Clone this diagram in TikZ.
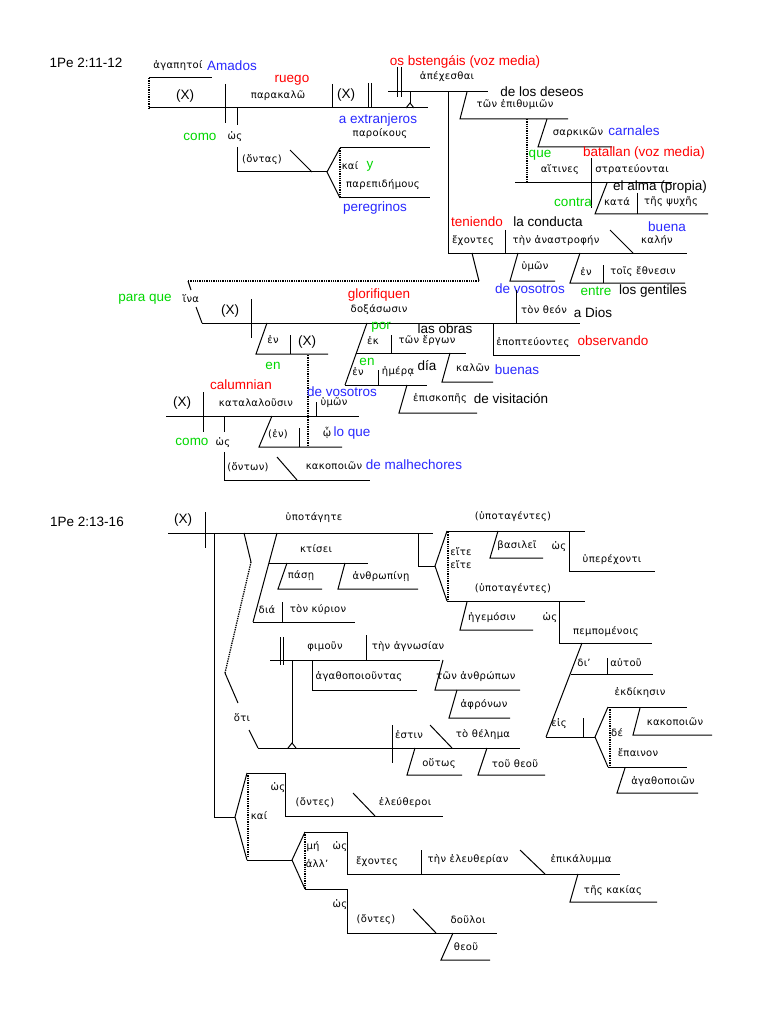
\documentclass[tikz,border=0pt]{standalone}
\usepackage{fontspec}
\setmainfont{Liberation Sans}
\newfontfamily\gkfont[LetterSpace=3]{DejaVu Sans}
\usepackage{xcolor}
\usepackage{tikz}
\definecolor{esred}{RGB}{255,0,0}
\definecolor{esblue}{RGB}{40,40,255}
\definecolor{esgreen}{RGB}{0,215,0}

\begin{document}
\begin{tikzpicture}[x=1pt,y=-1pt,line width=1pt]
\tikzstyle{gk} = [font=\gkfont\fontsize{10}{12}\selectfont, inner sep=0pt]
\tikzstyle{es} = [font=\fontsize{13.5}{15}\selectfont, inner sep=0pt]
\tikzstyle{rojo} = [es, text=esred]
\tikzstyle{azul} = [es, text=esblue]
\tikzstyle{verde} = [es, text=esgreen]
\tikzstyle{dotline} = [line width=1.3pt, densely dotted]

\useasboundingbox (0,0) rectangle (768,1024);

% ---------- 1Pe 2:11-12
\node[es] (title1) at (86,63) {1Pe 2:11-12};
\node[gk] (agapetoi) at (178,66) {ἀγαπητοί};
\node[azul] (amados) at (232,66) {Amados};
\draw (149,78) -- (212,78);
\draw[dotline] (149,78) -- (149,108);
\draw (149,108) -- (428,108);
\draw (225,84) -- (225,123);
\node[es] (x1) at (185,96) {(X)};
\node[rojo] (ruego) at (292,80) {ruego};
\node[gk] (parakalo) at (278,96) {παρακαλῶ};
\draw (332,84) -- (332,108);
\node[es] (x2) at (346,95) {(X)};
\draw (368,83) -- (368,108) (371,83) -- (371,108);
\draw (388,92) -- (488,92);
\draw (397,67) -- (397,97) (401,67) -- (401,97);
\draw (410,92) -- (410,103);
\draw (406,108) -- (410,103) -- (414,108);
\node[rojo] (abst) at (465,62) {os bstengáis (voz media)};
\node[gk] (apechesthai) at (447,77) {ἀπέχεσθαι};

% como extranjeros y peregrinos
\draw (237,108) -- (237,125);
\node[gk] (hos1) at (235,137) {ὡς};
\node[verde] (como1) at (200,137) {como};
\draw (237,147) -- (237,172) -- (327,172);
\node[gk] (ontas) at (262,160) {(ὄντας)};
\draw (290,150) -- (312,172);
\draw (340,148) -- (327,172) -- (340,198);
\draw (340,148) -- (430,148) (340,198) -- (430,198);
\draw[dotline] (340,148) -- (340,198);
\node[azul] (extranj) at (378,120) {a extranjeros};
\node[gk] (paroikous) at (380,134) {παροίκους};
\node[gk] (kai1) at (350,166) {καί};
\node[verde] (y1) at (370,166) {y};
\node[gk] (parepid) at (383,185) {παρεπιδήμους};
\node[azul] (peregr) at (375,208) {peregrinos};

% de los deseos carnales
\node[es] (deseos) at (542,92) {de los deseos};
\node[gk] (epithym) at (515,105) {τῶν ἐπιθυμιῶν};
\draw (467,92) -- (460,119) -- (568,119);
\draw (547,119) -- (538,147) -- (612,147);
\node[gk] (sarkikon) at (578,133) {σαρκικῶν};
\node[azul] (carnales) at (634,131) {carnales};
\draw[dotline] (527,119) -- (527,183);
\node[verde] (que1) at (540,155) {que};
\draw (515,183) -- (672,183);
\draw (591,158) -- (591,208);
\node[gk] (haitines) at (560,170) {αἵτινες};
\node[gk] (strateuontai) at (632,170) {στρατεύονται};
\node[rojo] (batallan) at (644,153) {batallan (voz media)};
\draw (607,183) -- (595,214) -- (708,214);
\draw (637,193) -- (637,214);
\node[gk] (kata) at (617,202) {κατά};
\node[gk] (psyches) at (671,202) {τῆς ψυχῆς};
\node[es] (alma) at (660,187) {el alma (propia)};
\node[verde] (contra) at (573,202) {contra};

% teniendo la conducta
\draw (448,92) -- (448,253);
\node[rojo] (teniendo) at (477,222) {teniendo};
\node[es] (conducta) at (548,222) {la conducta};
\node[azul] (buena) at (667,227) {buena};
\draw (448,253) -- (687,253);
\draw (505,230) -- (505,253);
\node[gk] (echontes1) at (473,241) {ἔχοντες};
\node[gk] (anastrophen) at (556,241) {τὴν ἀναστροφήν};
\draw (610,230) -- (633,253);
\node[gk] (kalen) at (657,241) {καλήν};
\draw (518,253) -- (510,281) -- (555,281);
\node[gk] (hymon1) at (535,267) {ὑμῶν};
\node[azul] (vosotros1) at (530,289) {de vosotros};
\draw (580,253) -- (570,283) -- (685,283);
\draw (603,265) -- (603,283);
\node[gk] (en1) at (586,272) {ἐν};
\node[gk] (ethnesin) at (643,272) {τοῖς ἔθνεσιν};
\node[verde] (entre) at (596,291) {entre};
\node[es] (gentiles) at (653,291) {los gentiles};
\draw (472,253) -- (479,281);
\draw[dotline] (479,281) -- (188,281);

% para que glorifiquen
\draw (188,281) -- (191,290);
\draw (196,307) -- (202,323);
\node[gk] (hina) at (191,299) {ἵνα};
\node[verde] (paraque) at (145,299) {para que};
\draw (202,323) -- (580,323);
\node[es] (x3) at (230,311) {(X)};
\draw (251,299) -- (251,338);
\node[rojo] (glorif) at (379,295) {glorifiquen};
\node[gk] (doxasosin) at (379,310) {δοξάσωσιν};
\draw (516,290) -- (516,323);
\node[gk] (theon1) at (544,310) {τὸν θεόν};
\node[es] (dios) at (593,313) {a Dios};
\draw (267,323) -- (256,354) -- (328,354);
\draw (290,335) -- (290,354);
\node[gk] (en2) at (273,340) {ἐν};
\node[es] (x4) at (307,342) {(X)};
\node[verde] (en2es) at (273,366) {en};
\draw[dotline] (308,355) -- (308,447);
\draw (367,323) -- (345,385);
\draw (356,353) -- (466,353);
\draw (391,335) -- (391,353);
\node[gk] (ek) at (373,341) {ἐκ};
\node[gk] (ergon) at (427,341) {τῶν ἔργων};
\node[verde] (por) at (381,327) {por};
\node[es] (obras) at (445,329) {las obras};
\draw (345,385) -- (427,385);
\draw (378,370) -- (378,385);
\node[gk] (en3) at (358,372) {ἐν};
\node[gk] (hemera) at (398,372) {ἡμέρᾳ};
\node[verde] (en3es) at (367,362) {en};
\node[es] (dia) at (427,366) {día};
\draw (450,353) -- (442,382) -- (493,382);
\node[gk] (kalon) at (473,368) {καλῶν};
\node[azul] (buenas) at (517,370) {buenas};
\draw (407,385) -- (399,413) -- (477,413);
\node[gk] (episkopes) at (440,399) {ἐπισκοπῆς};
\node[es] (visitacion) at (511,399) {de visitación};
\draw (493,323) -- (493,355) -- (580,355);
\node[gk] (epopteuontes) at (533,343) {ἐποπτεύοντες};
\node[rojo] (observando) at (613,341) {observando};

% en lo que calumnian
\node[azul] (vosotros2) at (342,392) {de vosotros};
\draw (166,416) -- (359,416);
\draw (203,392) -- (203,432);
\node[es] (x5) at (182,403) {(X)};
\node[gk] (katalalousin) at (256,403) {καταλαλοῦσιν};
\node[rojo] (calumnian) at (241,385) {calumnian};
\draw (316,402) -- (316,416);
\node[gk] (hymon2) at (334,403) {ὑμῶν};
\draw (224,416) -- (224,432);
\node[gk] (hos2) at (223,443) {ὡς};
\node[verde] (como2) at (192,442) {como};
\draw (224,452) -- (224,480) -- (370,480);
\draw (272,416) -- (259,447) -- (342,447);
\draw (299,428) -- (299,447);
\node[gk] (en4) at (278,434) {(ἐν)};
\node[gk] (ho) at (327,433) {ᾧ};
\node[azul] (loque) at (352,433) {lo que};
\node[gk] (onton) at (248,467) {(ὄντων)};
\draw (277,457) -- (297,480);
\node[gk] (kakopoion1) at (334,466) {κακοποιῶν};
\node[azul] (malhech) at (414,465) {de malhechores};

% ---------- 1Pe 2:13-16
\node[es] (title2) at (87,522) {1Pe 2:13-16};
\node[es] (x6) at (183,520) {(X)};
\draw (205,512) -- (205,548);
\draw (168,533) -- (433,533);
\node[gk] (hypotagete) at (314,518) {ὑποτάγητε};
\draw (418,533) -- (418,566) -- (435,566);
\draw (447,531) -- (435,566) -- (447,601);
\draw[dotline] (448,532) -- (448,600);
\node[gk] (eite1) at (461,552) {εἴτε};
\node[gk] (eite2) at (461,565) {εἴτε};
\draw (447,531) -- (585,531);
\node[gk] (hypotag1) at (513,517) {(ὑποταγέντες)};
\draw (498,531) -- (490,558) -- (543,558);
\node[gk] (basilei) at (517,546) {βασιλεῖ};
\draw (569,531) -- (569,571) -- (655,571);
\node[gk] (hos3) at (559,547) {ὡς};
\node[gk] (hyperechonti) at (612,560) {ὑπερέχοντι};
\draw (447,601) -- (585,601);
\node[gk] (hypotag2) at (513,589) {(ὑποταγέντες)};
\draw (467,602) -- (460,630) -- (533,630);
\node[gk] (hegemosin) at (492,618) {ἡγεμόσιν};
\draw (559,602) -- (559,643) -- (652,643);
\node[gk] (hos4) at (550,618) {ὡς};
\node[gk] (pempomenois) at (606,632) {πεμπομένοις};
\draw (582,643) -- (546,737);
\draw (571,674) -- (653,674);
\draw (607,658) -- (607,674);
\node[gk] (di) at (584,663) {δι’};
\node[gk] (autou) at (626,663) {αὐτοῦ};
\draw (546,737) -- (595,737);
\draw (583,718) -- (583,737);
\node[gk] (eis) at (559,724) {εἰς};
\draw (608,707) -- (595,737) -- (608,767);
\draw[dotline] (610,707) -- (610,767);
\node[gk] (de1) at (617,733) {δέ};
\draw (608,707) -- (687,707);
\node[gk] (ekdikesin) at (640,693) {ἐκδίκησιν};
\draw (640,708) -- (633,735) -- (712,735);
\node[gk] (kakopoion2) at (675,722) {κακοποιῶν};
\draw (608,767) -- (687,767);
\node[gk] (epainon) at (638,753) {ἔπαινον};
\draw (625,768) -- (617,793) -- (698,793);
\node[gk] (agathopoion) at (663,782) {ἀγαθοποιῶν};

% dia ton kyrion
\draw (277,533) -- (253,622);
\draw (269,563) -- (368,563);
\node[gk] (ktisei) at (316,549) {κτίσει};
\draw (287,563) -- (278,589) -- (322,589);
\node[gk] (pase) at (301,576) {πάσῃ};
\draw (345,563) -- (338,589) -- (418,589);
\node[gk] (anthropine) at (381,577) {ἀνθρωπίνῃ};
\draw (253,622) -- (355,622);
\draw (282,602) -- (282,622);
\node[gk] (dia1) at (267,610) {διά};
\node[gk] (kyrion) at (318,610) {τὸν κύριον};

% hoti
\draw (244,533) -- (251,562);
\draw[dotline] (251,562) -- (225,673);
\draw (225,673) -- (238,703);
\draw (249,730) -- (258,748);
\node[gk] (hoti) at (242,718) {ὅτι};
\draw (258,748) -- (520,748);
\draw (270,660) -- (440,660);
\draw (280,637) -- (280,665) (283,637) -- (283,665);
\node[gk] (phimoun) at (325,647) {φιμοῦν};
\draw (366,635) -- (366,660);
\node[gk] (agnosian) at (408,647) {τὴν ἀγνωσίαν};
\draw (292,660) -- (292,743);
\draw (288,748) -- (292,743) -- (296,748);
\draw (312,660) -- (312,690) -- (417,690);
\node[gk] (agathopoiountas) at (359,677) {ἀγαθοποιοῦντας};
\draw (443,660) -- (435,690) -- (520,690);
\node[gk] (anthropon) at (476,677) {τῶν ἀνθρώπων};
\draw (457,690) -- (449,718) -- (510,718);
\node[gk] (aphronon) at (484,705) {ἀφρόνων};
\draw (392,725) -- (392,763);
\node[gk] (estin) at (409,735) {ἐστιν};
\draw (430,725) -- (452,748);
\node[gk] (thelema) at (483,735) {τὸ θέλημα};
\draw (415,748) -- (407,775) -- (462,775);
\node[gk] (houtos) at (439,764) {οὕτως};
\draw (487,748) -- (478,775) -- (545,775);
\node[gk] (theou1) at (515,764) {τοῦ θεοῦ};

% hos eleutheroi
\draw (214,533) -- (214,817) -- (235,817);
\draw (247,773) -- (235,817) -- (247,860);
\draw[dotline] (248,773) -- (248,858);
\node[gk] (kai2) at (259,816) {καί};
\draw (247,773) -- (285,773) -- (285,816) -- (443,816);
\node[gk] (hos5) at (278,788) {ὡς};
\node[gk] (ontes1) at (315,803) {(ὄντες)};
\draw (353,793) -- (375,816);
\node[gk] (eleutheroi) at (405,803) {ἐλεύθεροι};
\draw (247,860) -- (292,860);
\draw (305,832) -- (292,860) -- (305,889);
\draw[dotline] (305,832) -- (305,889);
\node[gk] (me) at (313,847) {μή};
\node[gk] (all) at (317,864) {ἀλλ’};
\draw (305,832) -- (347,832) -- (347,874) -- (620,874);
\node[gk] (hos6) at (340,847) {ὡς};
\node[gk] (echontes2) at (377,862) {ἔχοντες};
\draw (421,850) -- (421,874);
\node[gk] (eleutherian) at (468,860) {τὴν ἐλευθερίαν};
\draw (520,850) -- (545,874);
\node[gk] (epikalymma) at (581,860) {ἐπικάλυμμα};
\draw (578,874) -- (570,902) -- (657,902);
\node[gk] (kakias) at (613,891) {τῆς κακίας};
\draw (305,889) -- (347,889) -- (347,933) -- (497,933);
\node[gk] (hos7) at (340,905) {ὡς};
\node[gk] (ontes2) at (376,920) {(ὄντες)};
\draw (413,909) -- (436,933);
\node[gk] (douloi) at (468,920) {δοῦλοι};
\draw (453,933) -- (441,960) -- (490,960);
\node[gk] (theou2) at (466,947) {θεοῦ};
\end{tikzpicture}
\end{document}
